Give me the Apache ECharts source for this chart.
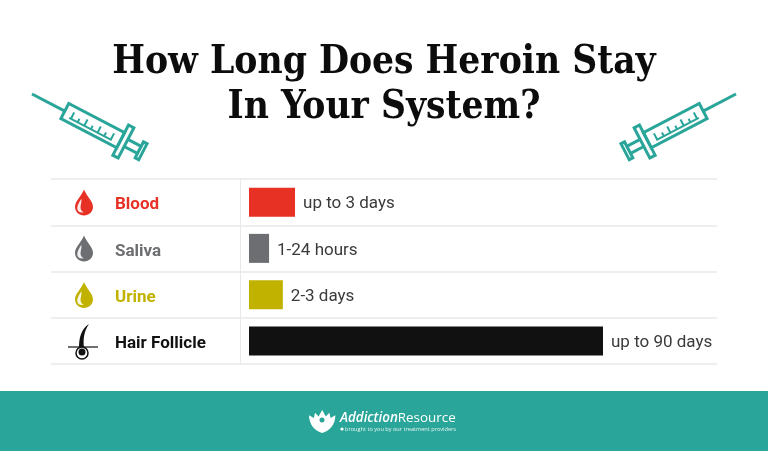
<!DOCTYPE html>
<html>
  <head>
    <meta charset="utf-8">
    <script src="https://cdnjs.cloudflare.com/ajax/libs/echarts/6.0.0/echarts.min.js"></script>
    <style>
      html, body { margin: 0; background: #fff; }
      #chart { width: 768px; height: 451px; }
    </style>
  </head>
  <body>
    <div id="chart"></div>
    <script>
      var titleLines = ['How Long Does Heroin Stay', 'In Your System?'];
      var categories = ['Blood', 'Saliva', 'Urine', 'Hair Follicle'];
      // bar lengths as drawn, on a scale where the longest bar is 90 days
      var barValues = [11.7, 5.1, 8.6, 90];
      var barLabels = ['up to 3 days', '1-24 hours', '2-3 days', 'up to 90 days'];
      var colors = ['#e73125', '#6d6e71', '#c2b200', '#111111'];
      var teal = '#2aa599';

      // icon shapes, the graphic component has no plain path type
      function regShape(name, d) {
        echarts.graphic.registerShape(name, echarts.graphic.extendPath(d));
      }
      regShape('drop', 'M12 0C9 9 0 16 0 24C0 31 5.4 36 12 36C18.6 36 24 31 24 24C24 16 15 9 12 0Z');
      regShape('shine', 'M8.5 13C5.5 18 3 22 3 26C3 28.5 4.5 30.5 6.5 31.5L12 32C8 30 7 27 7.5 23C8 20 9 16 8.5 13Z');
      regShape('hair', 'M19 0C11 5 9 14 9 24L14 24C13 15 14 7 19 0Z');
      regShape('tulip', 'M0 8L8 12L10 4L16 10L22 0L28 10L34 4L36 12L44 8C44 22 34 32 22 35C10 32 0 22 0 8Z');

      function drop(y, color) {
        return {
          type: 'group', x: 75, y: y, scaleX: 0.75, scaleY: 0.72, children: [
            { type: 'drop', style: { fill: color } },
            { type: 'shine', style: { fill: '#fff', opacity: 0.9 } }
          ]
        };
      }

      function syringe(x, y, rotation, scaleX) {
        var st = { stroke: teal, lineWidth: 3, fill: 'none' };
        var kids = [
          { type: 'line', shape: { x1: 0, y1: 0, x2: 37, y2: 0 }, style: st },
          { type: 'rect', shape: { x: 37, y: -8.5, width: 63, height: 17 }, style: st },
          { type: 'rect', shape: { x: 100, y: -17, width: 6, height: 34 }, style: st },
          { type: 'line', shape: { x1: 106, y1: -4, x2: 121, y2: -4 }, style: st },
          { type: 'line', shape: { x1: 106, y1: 4, x2: 121, y2: 4 }, style: st },
          { type: 'rect', shape: { x: 121, y: -9, width: 4, height: 18 }, style: st },
          { type: 'line', shape: { x1: 44, y1: 4, x2: 92, y2: 4 }, style: { stroke: teal, lineWidth: 2 } }
        ];
        for (var i = 0; i < 7; i++) {
          var tx = 46 + i * 7.5;
          kids.push({ type: 'line', shape: { x1: tx, y1: 4, x2: tx, y2: i % 2 ? 0 : -3 }, style: { stroke: teal, lineWidth: 2 } });
        }
        return { type: 'group', x: x, y: y, rotation: rotation, scaleX: scaleX, children: kids };
      }

      var chart = echarts.init(document.getElementById('chart'), null, { renderer: 'canvas' });
      chart.setOption({
        animation: false,
        backgroundColor: '#fff',
        title: {
          text: titleLines.join('\n'),
          left: 'center',
          top: 35,
          textStyle: { fontFamily: 'DejaVu Serif Condensed', fontWeight: 'bold', fontSize: 38.5, lineHeight: 45, color: '#0c0c0c' }
        },
        grid: [
          { left: 51, right: 51, top: 179, height: 185 },
          { left: 249, width: 354, top: 179, height: 185 },
          // category names sit a little under the row centres
          { left: 51, right: 51, top: 182, height: 185 }
        ],
        xAxis: [
          { gridIndex: 0, type: 'value', show: false, min: 0, max: 1 },
          { gridIndex: 1, type: 'value', show: false, min: 0, max: 90 },
          { gridIndex: 2, type: 'value', show: false, min: 0, max: 1 }
        ],
        yAxis: [
          {
            gridIndex: 0, type: 'category', inverse: true, data: categories,
            axisLine: { show: false }, axisTick: { show: false }, axisLabel: { show: false },
            splitLine: { show: true, lineStyle: { color: '#e9e9e9', width: 1.5 } }
          },
          {
            gridIndex: 1, type: 'category', inverse: true, data: categories, offset: 9,
            axisLine: { show: true, onZero: false, lineStyle: { color: '#e9e9e9', width: 1 } },
            axisTick: { show: false }, axisLabel: { show: false }
          },
          {
            gridIndex: 2, type: 'category', inverse: true, data: categories,
            axisLine: { show: false }, axisTick: { show: false }, splitLine: { show: false },
            axisLabel: {
              inside: true, margin: 64, fontFamily: 'Roboto', fontWeight: 'bold', fontSize: 17,
              color: function (v, i) { return colors[i]; }
            }
          }
        ],
        series: [{
          type: 'bar',
          xAxisIndex: 1,
          yAxisIndex: 1,
          barWidth: 29,
          data: barValues.map(function (v, i) {
            return { value: v, itemStyle: { color: colors[i] } };
          }),
          label: {
            show: true, position: 'right', distance: 8, offset: [0, 2], fontFamily: 'Roboto', fontSize: 17, color: '#3a3a3a',
            formatter: function (p) { return barLabels[p.dataIndex]; }
          }
        }],
        graphic: [
          { type: 'rect', z: -1, shape: { x: 0, y: 391, width: 768, height: 60 }, style: { fill: teal } },
          syringe(32, 94, -0.48, 1),
          syringe(736, 94, 0.48, -1),
          drop(189.5, colors[0]),
          drop(235.5, colors[1]),
          drop(282, colors[2]),
          // hair follicle icon
          { type: 'line', shape: { x1: 68, y1: 347, x2: 98, y2: 347 }, style: { stroke: '#111', lineWidth: 1.2 } },
          { type: 'hair', x: 70, y: 324, style: { fill: '#111' } },
          { type: 'circle', shape: { cx: 82, cy: 353, r: 6 }, style: { fill: '#fff', stroke: '#111', lineWidth: 1.5 } },
          { type: 'circle', shape: { cx: 82, cy: 352, r: 3.5 }, style: { fill: '#111' } },
          // footer logo
          { type: 'tulip', x: 309, y: 410, scaleX: 0.6, scaleY: 0.66, style: { fill: '#fff' } },
          { type: 'circle', shape: { cx: 322, cy: 420, r: 2.5 }, style: { fill: teal } },
          {
            type: 'text', x: 340, y: 412,
            style: {
              text: '{a|Addiction}{b|Resource}',
              rich: {
                a: { fontFamily: 'Open Sans', fontStyle: 'italic', fontWeight: 600, fontSize: 13.4, fill: '#fff' },
                b: { fontFamily: 'Open Sans', fontSize: 13.4, fill: '#fff' }
              }
            }
          },
          { type: 'circle', shape: { cx: 342, cy: 429, r: 1.6 }, style: { fill: '#fff' } },
          { type: 'text', x: 345, y: 426, style: { text: 'brought to you by our treatment providers', fontFamily: 'Open Sans', fontSize: 5.6, fill: '#e4f4f1' } }
        ]
      });
    </script>
  </body>
</html>
